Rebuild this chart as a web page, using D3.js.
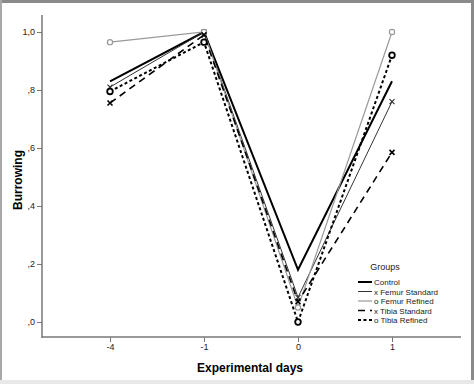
<!DOCTYPE html>
<html>
<head>
<meta charset="utf-8">
<script src="https://cdn.jsdelivr.net/npm/d3@7"></script>
<style>
  html, body { margin: 0; padding: 0; background: #fff; }
  svg { display: block; }
</style>
</head>
<body>
<div id="chart"></div>
<script>
// data
var days = ["-4", "-1", "0", "1"];
var control = [0.83, 1.0, 0.18, 0.83];
var femurStandard = [0.81, 1.0, 0.085, 0.76];
var femurRefined = [0.965, 1.0, 0.05, 1.0];
var tibiaStandard = [0.755, 0.99, 0.07, 0.585];
var tibiaRefined = [0.795, 0.965, 0.0, 0.92];
var yTicks = [0, 0.2, 0.4, 0.6, 0.8, 1.0];
var yTickLabels = [",0", ",2", ",4", ",6", ",8", "1,0"];

var groups = [
  { name: "Control", values: control, color: "#000", width: 2, dash: null, marker: null },
  { name: "x Femur Standard", values: femurStandard, color: "#333", width: 1, dash: null, marker: "x" },
  { name: "o Femur Refined", values: femurRefined, color: "#999", width: 1.2, dash: null, marker: "o" },
  { name: "x Tibia Standard", values: tibiaStandard, color: "#000", width: 1.6, dash: "7,5", marker: "x" },
  { name: "o Tibia Refined", values: tibiaRefined, color: "#000", width: 2, dash: "3,2.5", marker: "O" }
];

var W = 474, H = 384;
var svg = d3.select("#chart").append("svg")
  .attr("width", W).attr("height", H);

// frame like the scanned figure
svg.append("rect").attr("x", 0).attr("y", 0).attr("width", W).attr("height", H).attr("fill", "#fff");
svg.append("rect").attr("x", 0).attr("y", 0).attr("width", W).attr("height", 3).attr("fill", "#8a8a8a");
svg.append("rect").attr("x", 0).attr("y", 0).attr("width", 2).attr("height", H).attr("fill", "#a8a8a8");
svg.append("rect").attr("x", 471).attr("y", 0).attr("width", 3).attr("height", H).attr("fill", "#8a8a8a");
svg.append("rect").attr("x", 0).attr("y", 380).attr("width", W).attr("height", 4).attr("fill", "#e8e8e8");

var x = d3.scalePoint().domain(days).range([110, 392]);
var y = d3.scaleLinear().domain([0, 1]).range([322, 32]);

var axisColor = "#777";

// y axis
var yAxis = svg.append("g").attr("transform", "translate(42,0)")
  .call(d3.axisLeft(y).tickValues(yTicks).tickSize(5).tickPadding(2)
    .tickFormat(function (d, i) { return yTickLabels[i]; }));
yAxis.select(".domain").remove();
yAxis.append("line").attr("x1", 0).attr("x2", 0).attr("y1", 15).attr("y2", 338)
  .attr("stroke", axisColor).attr("stroke-width", 1.5);

// x axis
var xAxis = svg.append("g").attr("transform", "translate(0,337)")
  .call(d3.axisBottom(x).tickSize(5).tickPadding(2));
xAxis.select(".domain").remove();
xAxis.append("line").attr("x1", 42).attr("x2", 461).attr("y1", 0).attr("y2", 0)
  .attr("stroke", axisColor).attr("stroke-width", 1.5);

svg.selectAll(".tick line").attr("stroke", axisColor);
svg.selectAll(".tick text").attr("fill", "#222")
  .style("font-family", "'Liberation Sans', Arial, sans-serif").style("font-size", "9px");

// axis titles
svg.append("text").attr("x", 250).attr("y", 372).attr("text-anchor", "middle")
  .style("font-family", "'Liberation Sans', Arial, sans-serif").style("font-size", "12px")
  .style("font-weight", "bold").text("Experimental days");
svg.append("text").attr("transform", "translate(22,180) rotate(-90)").attr("text-anchor", "middle")
  .style("font-family", "'Liberation Sans', Arial, sans-serif").style("font-size", "12px")
  .style("font-weight", "bold").text("Burrowing");

// lines
var line = d3.line()
  .x(function (d, i) { return x(days[i]); })
  .y(function (d) { return y(d); });

groups.forEach(function (g) {
  svg.append("path").datum(g.values)
    .attr("d", line)
    .attr("fill", "none")
    .attr("stroke", g.color)
    .attr("stroke-width", g.width)
    .attr("stroke-dasharray", g.dash);
});

// markers
function drawMarker(sel, g, cx, cy) {
  if (g.marker === "x") {
    var s = 2.5;
    sel.append("path")
      .attr("d", "M" + (cx - s) + "," + (cy - s) + "L" + (cx + s) + "," + (cy + s) +
        "M" + (cx - s) + "," + (cy + s) + "L" + (cx + s) + "," + (cy - s))
      .attr("stroke", g.color).attr("stroke-width", g.width === 1 ? 1.2 : 1.6).attr("fill", "none");
  } else if (g.marker === "o") {
    sel.append("circle").attr("cx", cx).attr("cy", cy).attr("r", 2.6)
      .attr("fill", "#fff").attr("stroke", g.color).attr("stroke-width", 1.2);
  } else if (g.marker === "O") {
    sel.append("circle").attr("cx", cx).attr("cy", cy).attr("r", 2.8)
      .attr("fill", "#fff").attr("stroke", g.color).attr("stroke-width", 1.8);
  }
}

groups.forEach(function (g) {
  var mg = svg.append("g");
  g.values.forEach(function (v, i) {
    drawMarker(mg, g, x(days[i]), y(v));
  });
});

// legend
var legend = svg.append("g").attr("transform", "translate(358,0)");
legend.append("text").attr("x", 27).attr("y", 270).attr("text-anchor", "middle")
  .style("font-family", "'Liberation Sans', Arial, sans-serif").style("font-size", "9px")
  .attr("fill", "#222").text("Groups");
groups.forEach(function (g, i) {
  var ly = 282 + i * 9.5;
  legend.append("line").attr("x1", 0).attr("x2", 14).attr("y1", ly).attr("y2", ly)
    .attr("stroke", g.color).attr("stroke-width", g.width)
    .attr("stroke-dasharray", g.dash);
  legend.append("text").attr("x", 16).attr("y", ly + 3)
    .style("font-family", "'Liberation Sans', Arial, sans-serif").style("font-size", "8px")
    .attr("fill", "#222").text(g.name);
});
</script>
</body>
</html>
